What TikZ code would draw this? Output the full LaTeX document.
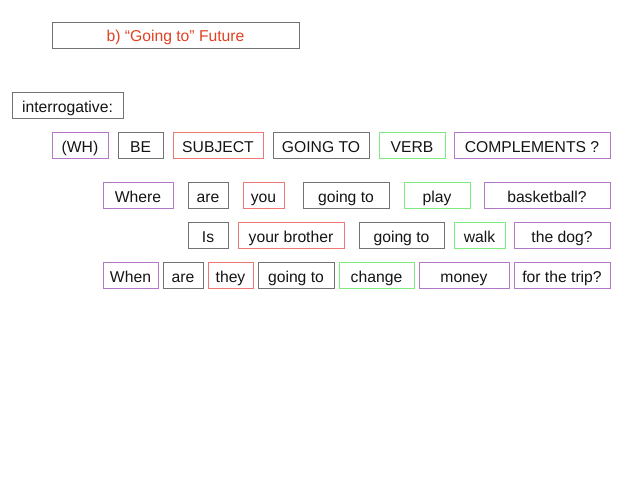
\documentclass[tikz,border=0pt]{standalone}
\usepackage{fontspec}
\setmainfont{Liberation Sans}

\definecolor{boxgray}{RGB}{115,115,115}
\definecolor{boxred}{RGB}{235,120,115}
\definecolor{boxgreen}{RGB}{125,235,125}
\definecolor{boxpurple}{RGB}{180,120,200}
\definecolor{titlered}{RGB}{225,65,35}
\definecolor{wordtext}{RGB}{20,20,20}

\tikzset{wordbox/.style={draw, line width=1pt, inner sep=0pt,
                         minimum height=26pt, text=wordtext,
                         text height=12.6pt, text depth=0pt,
                         font=\fontsize{15.7}{18}\selectfont}}

\begin{document}
\begin{tikzpicture}[x=1pt, y=-1pt, line cap=round]
\useasboundingbox (0,0) rectangle (638,478);

\node[wordbox, draw=boxgray, text=titlered, minimum width=247]
     (title) at (175.5,35.5) {b) “Going to” Future};
\node[wordbox, draw=boxgray, minimum width=111]
     (interr) at (67.5,106) {interrogative:};

% pattern
\foreach \nm/\xa/\xb/\cl/\txt in {wh/52/108/boxpurple/(WH),
        be/118/163/boxgray/BE, subj/173/263/boxred/SUBJECT,
        goto/273/369/boxgray/GOING TO, verb/379/445/boxgreen/VERB,
        comp/454/610/boxpurple/COMPLEMENTS ?}{
    \pgfmathsetmacro{\xc}{(\xa+\xb)/2}
    \pgfmathsetmacro{\w}{\xb-\xa}
    \node[wordbox, draw=\cl, minimum width=\w] (pat-\nm) at (\xc,146) {\txt};
}

% examples
\foreach \nm/\xa/\xb/\cl/\txt in {wh/103/173/boxpurple/Where,
        be/188/228/boxgray/are, subj/243/284/boxred/you,
        goto/303/389/boxgray/going to, verb/404/470/boxgreen/play,
        comp/484/610/boxpurple/basketball?}{
    \pgfmathsetmacro{\xc}{(\xa+\xb)/2}
    \pgfmathsetmacro{\w}{\xb-\xa}
    \node[wordbox, draw=\cl, minimum width=\w] (ex1-\nm) at (\xc,196) {\txt};
}
\foreach \nm/\xa/\xb/\cl/\txt in {be/188/228/boxgray/Is,
        subj/238/344/boxred/your brother, goto/359/444/boxgray/going to,
        verb/454/505/boxgreen/walk, comp/514/610/boxpurple/the dog?}{
    \pgfmathsetmacro{\xc}{(\xa+\xb)/2}
    \pgfmathsetmacro{\w}{\xb-\xa}
    \node[wordbox, draw=\cl, minimum width=\w] (ex2-\nm) at (\xc,236) {\txt};
}
\foreach \nm/\xa/\xb/\cl/\txt in {wh/103/158/boxpurple/When,
        be/163/203/boxgray/are, subj/208/253/boxred/they,
        goto/258/334/boxgray/going to, verb/339/414/boxgreen/change,
        obj/419/509/boxpurple/money, comp/514/610/boxpurple/for the trip?}{
    \pgfmathsetmacro{\xc}{(\xa+\xb)/2}
    \pgfmathsetmacro{\w}{\xb-\xa}
    \node[wordbox, draw=\cl, minimum width=\w] (ex3-\nm) at (\xc,276) {\txt};
}
\end{tikzpicture}
\end{document}
